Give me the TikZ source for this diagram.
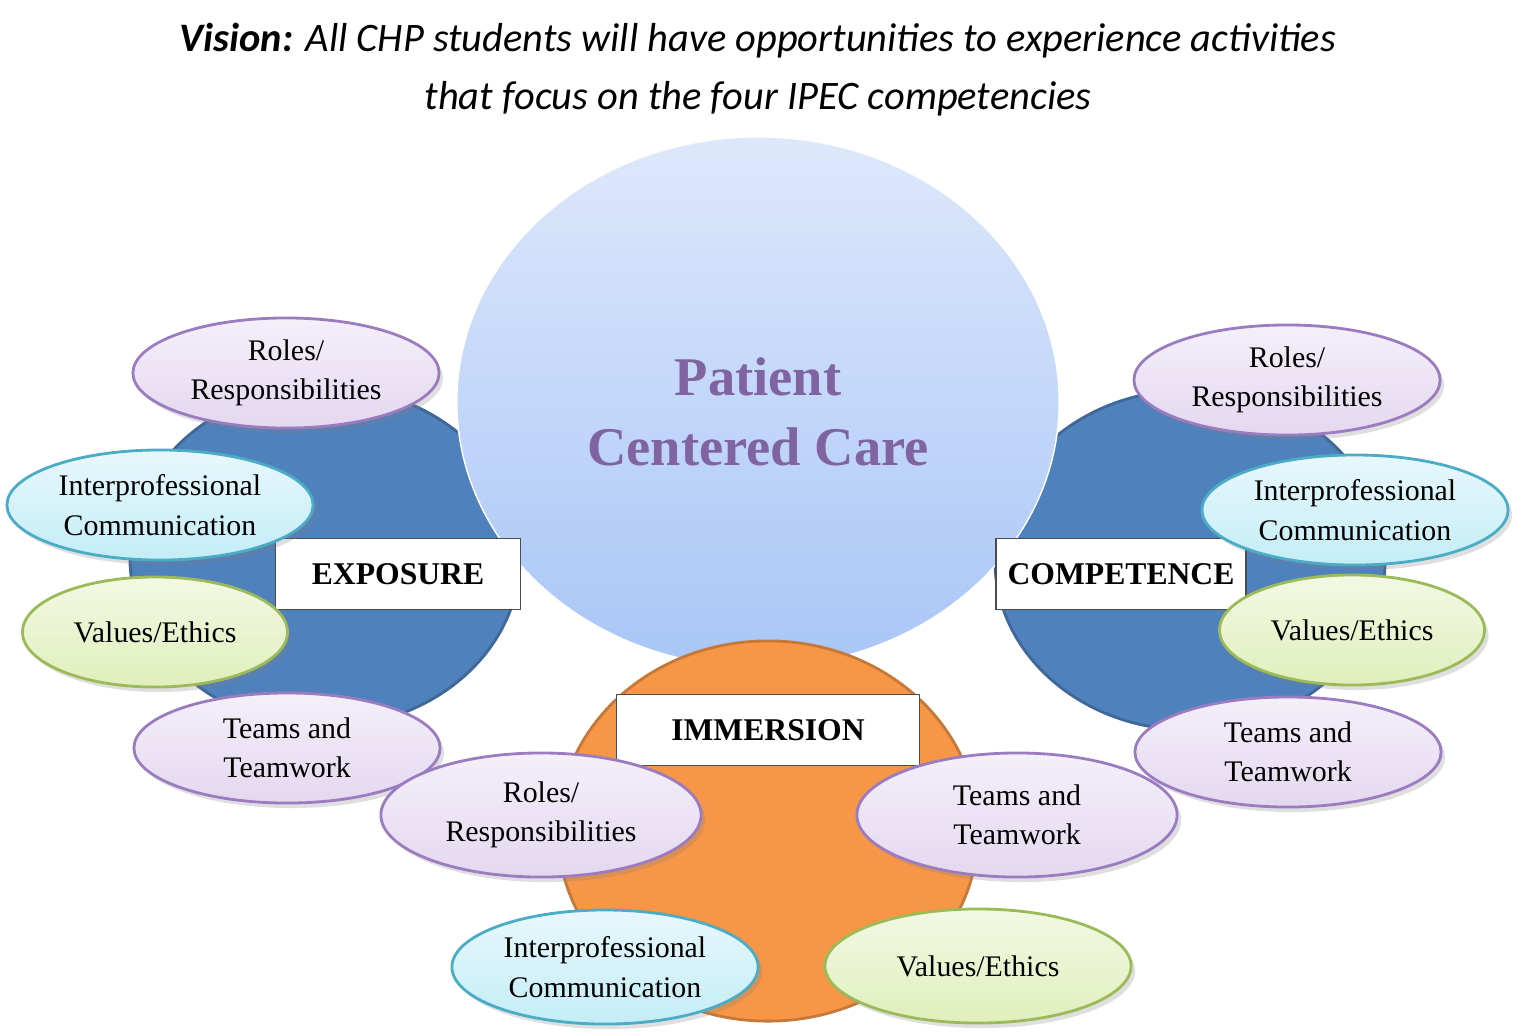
\documentclass[tikz,border=0pt]{standalone}
\usepackage{fontspec}
\setmainfont{Liberation Serif}
\newfontfamily\titlefont{Carlito}
\usetikzlibrary{shapes.geometric,shadows}
\definecolor{rolefill}{HTML}{E4D8F0}
\definecolor{roleline}{HTML}{9C7CC0}
\definecolor{commfill}{HTML}{C4EDF7}
\definecolor{commline}{HTML}{4BACC6}
\definecolor{valfill}{HTML}{E0EFBC}
\definecolor{valline}{HTML}{9BBB59}
\definecolor{stageblue}{HTML}{4F81BD}
\definecolor{stageorange}{HTML}{F79646}
\definecolor{carepurple}{HTML}{8064A2}
\definecolor{caretop}{HTML}{DDE8FB}
\definecolor{carebottom}{HTML}{A9C6F7}
\tikzset{
  bubble/.style={ellipse, draw, line width=0.8pt, minimum width=3.06cm, minimum height=1.1cm,
    align=center, inner sep=0pt, font=\fontsize{8.5}{11.2}\selectfont,
    drop shadow={shadow xshift=0.04cm, shadow yshift=-0.05cm, opacity=0.25}},
  rolebub/.style={bubble, top color=rolefill!40, bottom color=rolefill, draw=roleline},
  commbub/.style={bubble, top color=commfill!40, bottom color=commfill, draw=commline},
  valbub/.style={bubble, top color=valfill!40, bottom color=valfill, draw=valline, minimum width=2.65cm},
  stage/.style={ellipse, draw=stageblue!80!black, fill=stageblue, line width=0.8pt,
    minimum width=3.9cm, minimum height=3.4cm},
  stagebox/.style={draw=black!70, fill=white, minimum height=0.71cm, font=\fontsize{9}{10}\selectfont\bfseries}
}
\begin{document}
\begin{tikzpicture}[x=0.01cm, y=-0.01cm]
	\useasboundingbox (0,0) rectangle (1516,1033);
	% title
	\node[font=\titlefont\fontsize{11.5}{16.5}\selectfont\itshape, align=center] (vision) at (758,70)
		{\textbf{Vision:} All CHP students will have opportunities to experience activities\\
		 that focus on the four IPEC competencies};

	% stages behind the centre
	\node[stage] (exposure) at (325,557) {};
	\node[stage] (competence) at (1190,560) {};
	\node[ellipse, top color=caretop, bottom color=carebottom, draw=white,
		minimum width=6.02cm, minimum height=5.3cm] (care) at (758,402) {};
	\node[font=\fontsize{15.5}{20}\selectfont\bfseries, text=carepurple, align=center] (caretext) at (758,412)
		{Patient\\Centered\ Care};
	\node[stage, draw=stageorange!80!black, fill=stageorange, minimum width=4.2cm, minimum height=3.8cm]
		(immersion) at (768,831) {};

	% stage labels
	\node[stagebox, minimum width=2.45cm] (exposurebox) at (398,574) {EXPOSURE};
	\node[stagebox, minimum width=2.5cm] (competencebox) at (1121,574) {COMPETENCE};
	\node[stagebox, minimum width=3.03cm] (immersionbox) at (768,730) {IMMERSION};

	% exposure
	\node[rolebub] (rolesL) at (286,373) {Roles/\\Responsibilities};
	\node[commbub] (commL) at (160,505) {Interprofessional\\Communication};
	\node[valbub] (valL) at (155,632) {Values/Ethics};
	\node[rolebub] (teamsL) at (287,748) {Teams and\\Teamwork};

	% competence
	\node[rolebub] (rolesR) at (1287,380) {Roles/\\Responsibilities};
	\node[commbub] (commR) at (1355,510) {Interprofessional\\Communication};
	\node[valbub] (valR) at (1352,630) {Values/Ethics};
	\node[rolebub] (teamsR) at (1288,752) {Teams and\\Teamwork};

	% immersion
	\node[rolebub, minimum width=3.2cm, minimum height=1.24cm] (rolesB) at (541,815) {Roles/\\Responsibilities};
	\node[rolebub, minimum width=3.2cm, minimum height=1.24cm] (teamsB) at (1017,815) {Teams and\\Teamwork};
	\node[commbub, minimum height=1.14cm] (commB) at (605,967) {Interprofessional\\Communication};
	\node[valbub, minimum width=3.06cm, minimum height=1.14cm] (valB) at (978,966) {Values/Ethics};
\end{tikzpicture}
\end{document}
